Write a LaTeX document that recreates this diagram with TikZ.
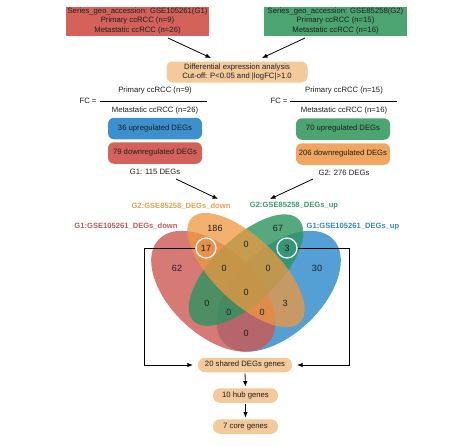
\documentclass[tikz,border=0pt]{standalone}
\usepackage{fontspec}
\setmainfont{Liberation Sans}
\usetikzlibrary{arrows.meta}
\definecolor{boxred}{RGB}{212,98,90}
\definecolor{boxgreen}{RGB}{76,164,112}
\definecolor{boxblue}{RGB}{60,144,206}
\definecolor{boxorange}{RGB}{240,166,96}
\definecolor{tan}{RGB}{244,201,155}
\definecolor{vred}{RGB}{205,88,82}
\definecolor{vorange}{RGB}{238,152,64}
\definecolor{vgreen}{RGB}{44,148,95}
\definecolor{vblue}{RGB}{42,136,200}
\definecolor{lblorange}{RGB}{232,160,80}
\definecolor{lblgreen}{RGB}{60,155,105}
\definecolor{lblred}{RGB}{200,90,85}
\definecolor{lblblue}{RGB}{55,135,192}
\definecolor{txt}{RGB}{30,30,30}
\tikzset{
  plain/.style={inner sep=0pt, align=center, text=txt},
  rectbox/.style={plain, minimum width=143pt, minimum height=29pt},
  roundbox/.style={plain, rounded corners=6pt, minimum width=94pt, minimum height=21.5pt},
  pill/.style={plain, fill=tan, rounded corners=7pt, minimum height=14.5pt},
  vlabel/.style={inner sep=0pt, font=\fontsize{7.6}{9}\selectfont\bfseries},
  vnum/.style={inner sep=0pt, font=\fontsize{9}{10}\selectfont, text=txt},
  arr/.style={-{Latex[length=5.5pt,width=4.5pt]}, line width=0.8pt, black},
  venn/.style={fill opacity=0.8}
}
\begin{document}
\begin{tikzpicture}[x=1pt,y=-1pt, font=\fontsize{7.7}{9.5}\selectfont]
\useasboundingbox (0,0) rectangle (474,445);
\fill[white] (0,0) rectangle (474,445);

% top boxes
\node[rectbox, fill=boxred] (g1) at (137.5,21) {Series\_geo\_accession: GSE105261(G1)\\Primary ccRCC (n=9)\\Metastatic ccRCC (n=26)};
\node[rectbox, fill=boxgreen] (g2) at (335.5,21) {Series\_geo\_accession: GSE85258(G2)\\Primary ccRCC (n=15)\\Metastatic ccRCC (n=16)};
\node[plain, fill=tan, rounded corners=6pt, minimum width=141pt, minimum height=21pt] (dea) at (237,72) {Differential expression analysis\\Cut-off: P<0.05 and |logFC|>1.0};

\coordinate (a1s) at (168,38); \coordinate (a1e) at (211,58);
\coordinate (a2s) at (305,38); \coordinate (a2e) at (262,58);
\draw[arr] (a1s) -- (a1e);
\draw[arr] (a2s) -- (a2e);

% FC fractions
\node[plain] (fcl) at (88,101) {FC =};
\node[plain] (numl) at (155,91) {Primary ccRCC (n=9)};
\node[plain] (denl) at (155,110.5) {Metastatic ccRCC (n=26)};
\coordinate (fl1) at (100,101); \coordinate (fl2) at (207,101);
\draw[line width=0.7pt] (fl1) -- (fl2);
\node[plain] (fcr) at (279,101) {FC =};
\node[plain] (numr) at (344,91) {Primary ccRCC (n=15)};
\node[plain] (denr) at (344,110.5) {Metastatic ccRCC (n=16)};
\coordinate (fr1) at (290,101); \coordinate (fr2) at (397,101);
\draw[line width=0.7pt] (fr1) -- (fr2);

% DEG boxes
\node[roundbox, fill=boxblue] (up1) at (155,128.5) {36 upregulated DEGs};
\node[roundbox, fill=boxred] (dn1) at (155,153) {79 downregulated DEGs};
\node[plain] (tot1) at (155,172) {G1: 115 DEGs};
\node[roundbox, fill=boxgreen] (up2) at (343,129) {70 upregulated DEGs};
\node[roundbox, fill=boxorange] (dn2) at (343,154) {206 downregulated DEGs};
\node[plain] (tot2) at (344,173) {G2: 276 DEGs};

\coordinate (b1s) at (176,179); \coordinate (b1e) at (218,199);
\coordinate (b2s) at (313,179); \coordinate (b2e) at (270,199);
\draw[arr] (b1s) -- (b1e);
\draw[arr] (b2s) -- (b2e);

% Venn labels
\node[vlabel, text=lblorange] (lod) at (181,206) {G2:GSE85258\_DEGs\_down};
\node[vlabel, text=lblgreen] (lou) at (294,206) {G2:GSE85258\_DEGs\_up};
\node[vlabel, text=lblred] (lrd) at (126,226.5) {G1:GSE105261\_DEGs\_down};
\node[vlabel, text=lblblue] (lbu) at (353,227) {G1:GSE105261\_DEGs\_up};

% Venn ellipses
\begin{scope}[shift={(137pt,-390.9pt)}, x=1pt, y=1pt, xscale=218, yscale=212]
  \fill[vblue, venn, rotate around={45:(0.65,0.47)}] (0.65,0.47) ellipse [x radius=0.35, y radius=0.2];
  \fill[vred, venn, rotate around={135:(0.35,0.47)}] (0.35,0.47) ellipse [x radius=0.35, y radius=0.2];
  \fill[vgreen, venn, rotate around={45:(0.5,0.57)}] (0.5,0.57) ellipse [x radius=0.34, y radius=0.15];
  \fill[vorange, venn, fill opacity=0.75, rotate around={135:(0.5,0.57)}] (0.5,0.57) ellipse [x radius=0.35, y radius=0.15];
\end{scope}

% Venn numbers
\node[vnum] (n186) at (215,228) {186};
\node[vnum] (n67) at (278,228) {67};
\node[vnum] (n0a) at (246,244) {0};
\node[vnum] (n62) at (177,268) {62};
\node[vnum] (n30) at (317,268) {30};
\node[vnum] (n0b) at (224,268) {0};
\node[vnum] (n0c) at (268,268) {0};
\node[vnum] (n0d) at (246,292) {0};
\node[vnum] (n0e) at (207,303) {0};
\node[vnum] (n3b) at (285,303) {3};
\node[vnum] (n0f) at (229,312) {0};
\node[vnum] (n0g) at (262,312) {0};
\node[vnum] (n0h) at (246,333) {0};
\node[vnum, circle, draw=white, line width=1.2pt, minimum size=20pt] (c17) at (206,248) {17};
\node[vnum, circle, draw=white, line width=1.2pt, minimum size=20pt] (c3) at (287,248) {3};

% bottom
\node[pill, minimum width=94pt] (shared) at (245,365) {20 shared DEGs genes};
\node[pill, minimum width=65pt] (hub) at (245.5,395.5) {10 hub genes};
\node[pill, minimum width=65pt] (core) at (245.5,426.5) {7 core genes};

\coordinate (lc) at (144,248);
\coordinate (rc) at (349,248);
\draw[arr, line width=0.7pt, shorten >=5pt] (c17.west) -- (lc) |- (shared.west);
\draw[arr, line width=0.7pt, shorten >=5pt] (c3.east) -- (rc) |- (shared.east);
\draw[arr, shorten <=1pt, shorten >=1.5pt] (shared.south) -- (hub.north);
\draw[arr, shorten <=1pt, shorten >=1.5pt] (hub.south) -- (core.north);
\end{tikzpicture}
\end{document}
